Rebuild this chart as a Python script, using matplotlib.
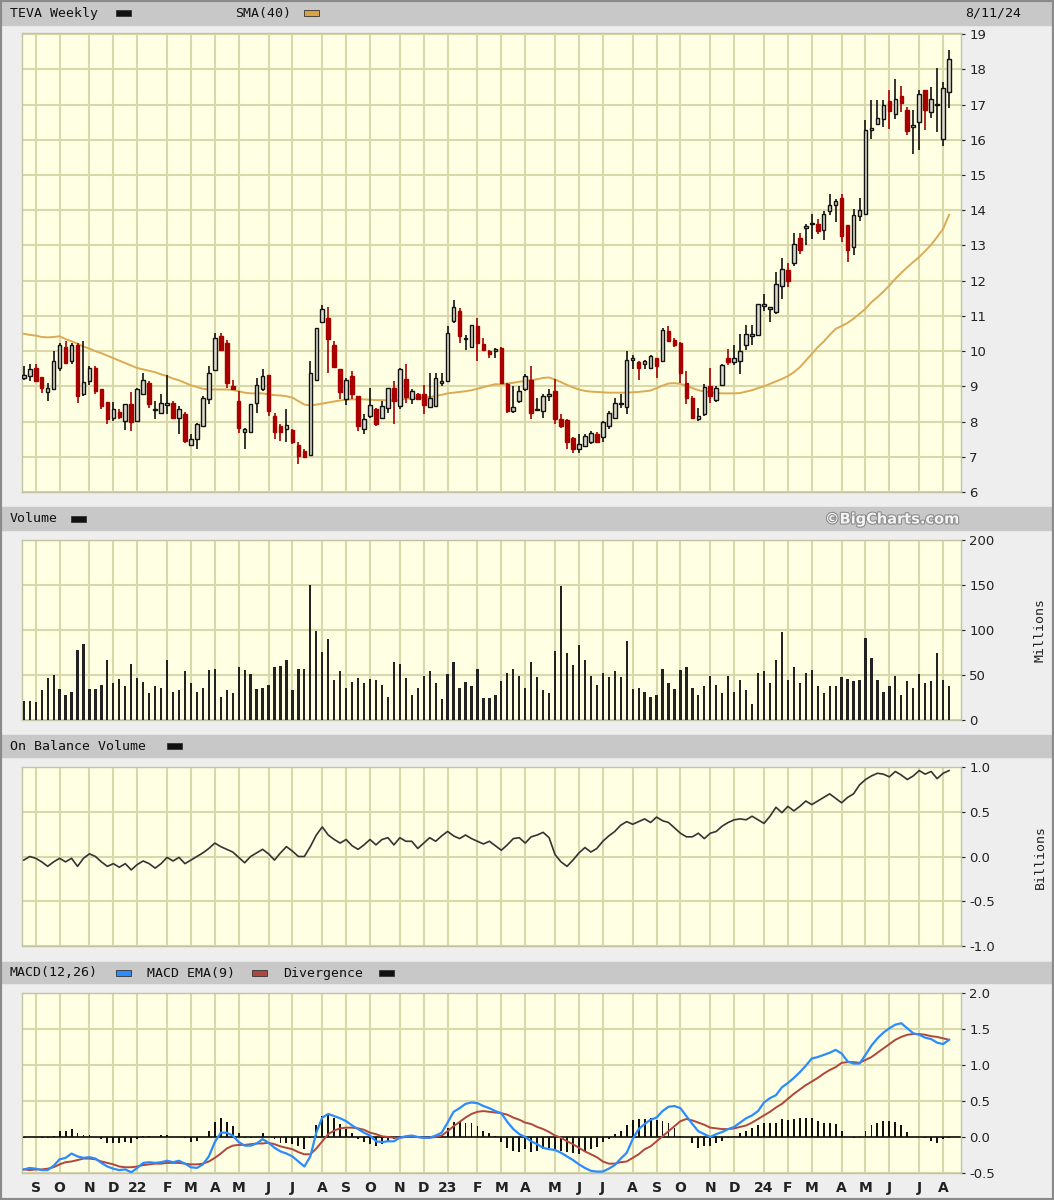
# TEVA weekly chart - price, volume, OBV and MACD panels

import numpy as np
import pandas as pd
import matplotlib
matplotlib.use('Agg')
import matplotlib.pyplot as plt
from matplotlib.patches import Rectangle
import matplotlib.patheffects as pe

# weekly bars, week ending Sunday
dates = pd.date_range('2021-08-22', periods=156, freq='W-SUN')

opens = [9.24, 9.29, 9.52, 9.26, 8.84, 8.91, 9.52, 10.13, 9.71, 10.18,
         8.77, 9.15, 9.52, 8.93, 8.56, 8.11, 8.27, 8.02, 8.49, 8.02,
         8.77, 9.10, 8.33, 8.25, 8.46, 8.54, 8.11, 8.21, 7.34, 7.50,
         7.88, 8.63, 9.46, 10.42, 10.23, 9.02, 8.58, 7.69, 7.69, 8.54,
         8.91, 9.33, 8.16, 7.88, 7.80, 7.75, 7.34, 7.17, 7.05, 9.19,
         10.84, 10.95, 10.16, 9.48, 8.63, 9.29, 8.72, 7.78, 8.16, 8.37,
         8.11, 8.39, 8.96, 8.44, 9.21, 8.63, 8.77, 8.77, 8.41, 8.44,
         9.10, 9.15, 10.86, 11.14, 10.34, 10.13, 10.70, 10.21, 10.01, 9.99,
         10.09, 9.08, 8.30, 8.58, 8.93, 9.19, 8.32, 8.30, 8.72, 8.86,
         8.06, 8.04, 7.52, 7.22, 7.31, 7.41, 7.64, 7.55, 7.88, 8.11,
         8.49, 8.41, 9.76, 9.68, 9.62, 9.52, 9.79, 9.71, 10.56, 10.32,
         10.23, 9.10, 8.68, 8.07, 8.21, 9.00, 8.60, 9.03, 9.80, 9.68,
         9.73, 10.16, 10.44, 10.46, 11.29, 11.20, 11.11, 11.86, 12.29, 12.50,
         13.22, 13.50, 13.60, 13.60, 13.45, 13.99, 14.16, 14.35, 13.57, 12.95,
         13.83, 13.90, 16.28, 16.46, 16.58, 17.09, 16.74, 17.24, 16.84, 16.37,
         16.50, 17.42, 16.79, 16.98, 16.03, 17.36]

highs = [9.57, 9.62, 9.62, 9.26, 9.10, 9.99, 10.23, 10.28, 10.23, 10.23,
         10.28, 9.59, 9.59, 8.93, 8.56, 8.55, 8.35, 8.49, 8.85, 8.96,
         9.38, 9.15, 8.58, 8.77, 9.33, 8.58, 8.44, 8.27, 7.64, 7.97,
         8.72, 9.57, 10.51, 10.51, 10.32, 9.19, 8.86, 7.83, 8.49, 9.24,
         9.50, 9.33, 8.25, 7.92, 8.35, 7.78, 7.41, 7.22, 9.71, 10.65,
         11.31, 11.26, 10.28, 9.48, 9.24, 9.43, 8.72, 8.21, 8.96, 8.39,
         8.58, 8.96, 9.15, 9.52, 9.62, 8.93, 8.82, 9.05, 9.38, 9.38,
         9.38, 10.70, 11.45, 11.22, 10.46, 10.75, 10.93, 10.37, 10.02, 10.09,
         10.13, 9.10, 9.01, 9.01, 9.35, 9.59, 8.68, 8.77, 8.91, 9.21,
         8.21, 8.06, 7.55, 7.64, 7.64, 7.74, 7.69, 8.02, 8.30, 8.68,
         8.77, 9.99, 9.90, 9.71, 9.76, 9.90, 9.79, 10.65, 10.72, 10.37,
         10.25, 9.43, 8.72, 8.39, 9.08, 9.52, 9.00, 9.62, 10.06, 10.18,
         10.49, 10.73, 10.73, 11.34, 11.63, 11.24, 12.24, 12.64, 12.50, 13.35,
         13.35, 13.62, 13.90, 13.76, 13.97, 14.47, 14.33, 14.47, 13.57, 14.02,
         14.34, 16.57, 17.12, 17.12, 17.12, 17.42, 17.72, 17.52, 16.93, 16.84,
         17.42, 17.42, 17.50, 18.04, 17.64, 18.55]

lows = [9.19, 9.15, 9.15, 8.82, 8.58, 8.91, 9.43, 9.62, 9.62, 8.54,
        8.72, 9.05, 8.77, 8.35, 7.92, 8.02, 8.06, 7.76, 7.72, 8.02,
        8.77, 8.39, 8.06, 8.21, 8.21, 8.11, 7.64, 7.39, 7.31, 7.22,
        7.88, 8.49, 9.46, 9.99, 8.96, 8.91, 7.67, 7.22, 7.69, 8.25,
        8.86, 8.16, 7.50, 7.45, 7.41, 7.36, 6.80, 6.98, 7.05, 9.19,
        10.79, 9.38, 9.52, 8.63, 8.46, 8.63, 7.74, 7.64, 8.11, 7.88,
        8.06, 8.25, 7.92, 8.35, 8.52, 8.49, 8.63, 8.21, 8.39, 8.44,
        9.01, 9.15, 10.79, 10.23, 10.04, 10.13, 9.71, 9.99, 9.79, 9.79,
        9.10, 8.25, 8.25, 8.54, 8.86, 8.06, 8.30, 8.11, 8.58, 7.92,
        7.83, 7.22, 7.12, 7.12, 7.27, 7.36, 7.41, 7.41, 7.78, 8.06,
        8.39, 8.21, 9.48, 9.19, 9.48, 9.49, 9.24, 9.71, 10.28, 10.13,
        9.10, 8.49, 8.06, 8.02, 8.16, 8.54, 8.55, 9.01, 9.60, 9.60,
        9.35, 10.02, 10.16, 10.46, 11.15, 10.82, 11.06, 11.47, 11.82, 12.41,
        12.77, 13.00, 13.19, 13.33, 13.14, 13.85, 13.66, 13.09, 12.53, 12.72,
        13.69, 13.90, 16.03, 16.46, 16.36, 16.31, 16.58, 16.79, 16.14, 15.60,
        15.70, 16.27, 16.62, 16.22, 15.82, 16.90]

closes = [9.33, 9.48, 9.15, 8.96, 8.96, 9.71, 10.18, 9.66, 10.18, 8.72,
          9.12, 9.52, 8.86, 8.44, 8.06, 8.35, 8.13, 8.49, 7.99, 8.91,
          9.19, 8.49, 8.36, 8.54, 8.52, 8.11, 8.35, 7.45, 7.50, 7.92,
          8.68, 9.38, 10.37, 10.04, 9.10, 8.91, 7.83, 7.78, 8.49, 9.05,
          9.29, 8.30, 7.71, 7.71, 7.90, 7.41, 7.01, 6.98, 9.38, 10.65,
          11.19, 10.34, 9.55, 8.84, 9.19, 8.77, 7.88, 8.07, 8.46, 7.92,
          8.44, 8.96, 8.58, 9.48, 8.70, 8.88, 8.63, 8.46, 8.68, 9.24,
          9.15, 10.51, 11.24, 10.42, 10.38, 10.75, 10.23, 10.02, 9.93, 10.05,
          9.10, 8.30, 8.41, 8.86, 9.29, 8.25, 8.35, 8.72, 8.77, 8.06,
          7.88, 7.41, 7.22, 7.36, 7.58, 7.67, 7.43, 7.99, 8.25, 8.54,
          8.54, 9.74, 9.80, 9.52, 9.71, 9.85, 9.59, 10.59, 10.28, 10.18,
          9.38, 8.68, 8.11, 8.16, 8.99, 8.72, 8.95, 9.60, 9.68, 9.80,
          9.99, 10.49, 10.48, 11.34, 11.33, 11.24, 11.91, 12.32, 12.00, 13.05,
          12.88, 13.54, 13.64, 13.41, 13.90, 14.14, 14.25, 13.28, 12.86, 13.85,
          14.01, 16.27, 16.32, 16.62, 16.98, 16.82, 17.17, 17.05, 16.24, 16.41,
          17.31, 16.84, 17.15, 17.02, 17.47, 18.30]

sma40 = [10.49, 10.46, 10.44, 10.40, 10.39, 10.40, 10.42, 10.34, 10.28, 10.21,
         10.13, 10.07, 10.00, 9.94, 9.87, 9.80, 9.73, 9.66, 9.59, 9.52,
         9.48, 9.44, 9.40, 9.34, 9.29, 9.22, 9.17, 9.10, 9.03, 8.98,
         8.93, 8.91, 8.91, 8.91, 8.91, 8.90, 8.86, 8.82, 8.80, 8.80,
         8.80, 8.77, 8.75, 8.74, 8.72, 8.68, 8.58, 8.48, 8.46, 8.48,
         8.51, 8.54, 8.57, 8.60, 8.62, 8.63, 8.63, 8.63, 8.62, 8.61,
         8.61, 8.60, 8.60, 8.61, 8.65, 8.66, 8.67, 8.68, 8.70, 8.72,
         8.76, 8.80, 8.82, 8.84, 8.86, 8.89, 8.93, 8.98, 9.02, 9.06,
         9.05, 9.08, 9.10, 9.13, 9.15, 9.18, 9.20, 9.24, 9.25, 9.19,
         9.12, 9.04, 8.97, 8.91, 8.87, 8.85, 8.84, 8.83, 8.82, 8.82,
         8.82, 8.82, 8.83, 8.84, 8.86, 8.88, 8.95, 9.02, 9.08, 9.09,
         9.07, 9.02, 8.95, 8.89, 8.85, 8.83, 8.81, 8.80, 8.80, 8.80,
         8.81, 8.85, 8.89, 8.95, 9.00, 9.07, 9.14, 9.21, 9.29, 9.40,
         9.54, 9.73, 9.92, 10.11, 10.27, 10.46, 10.63, 10.71, 10.80, 10.92,
         11.06, 11.20, 11.39, 11.53, 11.69, 11.86, 12.05, 12.22, 12.38, 12.53,
         12.67, 12.84, 13.02, 13.24, 13.47, 13.87]

# volume in millions
volume = [21, 21, 20, 33, 47, 50, 34, 28, 31, 78,
          84, 34, 34, 39, 67, 41, 46, 38, 62, 47,
          42, 30, 38, 36, 67, 31, 33, 54, 41, 31,
          36, 56, 57, 26, 33, 30, 59, 56, 51, 34,
          36, 39, 59, 60, 67, 33, 57, 57, 150, 99,
          76, 90, 44, 54, 36, 42, 47, 41, 46, 44,
          39, 26, 64, 62, 47, 28, 36, 49, 54, 41,
          23, 51, 64, 36, 42, 38, 57, 24, 24, 28,
          43, 52, 57, 49, 36, 64, 48, 33, 30, 77,
          149, 75, 61, 83, 67, 49, 39, 52, 48, 54,
          48, 88, 34, 36, 31, 26, 28, 57, 41, 34,
          56, 59, 36, 28, 38, 49, 39, 30, 49, 31,
          44, 33, 18, 52, 54, 41, 67, 98, 44, 59,
          41, 52, 56, 38, 30, 38, 38, 48, 46, 43,
          44, 91, 69, 44, 31, 38, 49, 28, 43, 36,
          51, 41, 43, 75, 44, 38]

# on balance volume in billions
obv = [-0.04, 0.00, -0.02, -0.06, -0.11, -0.06, -0.02, -0.06, -0.02, -0.11,
       -0.02, 0.03, 0.00, -0.06, -0.11, -0.08, -0.12, -0.08, -0.15, -0.09,
       -0.05, -0.08, -0.13, -0.08, -0.01, -0.05, -0.01, -0.08, -0.04, 0.00,
       0.04, 0.09, 0.15, 0.11, 0.08, 0.05, -0.01, -0.07, 0.00, 0.04,
       0.08, 0.03, -0.04, 0.04, 0.11, 0.06, 0.00, 0.00, 0.11, 0.24,
       0.33, 0.24, 0.19, 0.15, 0.19, 0.12, 0.08, 0.13, 0.19, 0.13,
       0.19, 0.21, 0.13, 0.21, 0.17, 0.17, 0.09, 0.15, 0.21, 0.17,
       0.23, 0.28, 0.23, 0.20, 0.24, 0.20, 0.17, 0.14, 0.17, 0.12,
       0.07, 0.13, 0.20, 0.21, 0.15, 0.22, 0.24, 0.27, 0.21, 0.02,
       -0.06, -0.11, -0.04, 0.04, 0.10, 0.05, 0.09, 0.17, 0.23, 0.28,
       0.35, 0.39, 0.36, 0.39, 0.42, 0.38, 0.44, 0.40, 0.38, 0.32,
       0.26, 0.22, 0.22, 0.26, 0.20, 0.26, 0.28, 0.34, 0.38, 0.41,
       0.42, 0.41, 0.45, 0.41, 0.37, 0.45, 0.55, 0.49, 0.56, 0.51,
       0.56, 0.62, 0.58, 0.62, 0.66, 0.70, 0.65, 0.60, 0.66, 0.70,
       0.80, 0.86, 0.90, 0.93, 0.92, 0.89, 0.95, 0.91, 0.86, 0.90,
       0.96, 0.92, 0.95, 0.87, 0.93, 0.96]

macd = [-0.45, -0.43, -0.44, -0.46, -0.46, -0.40, -0.31, -0.29, -0.23, -0.27,
        -0.29, -0.28, -0.30, -0.36, -0.41, -0.44, -0.46, -0.45, -0.49, -0.43,
        -0.36, -0.35, -0.36, -0.35, -0.33, -0.35, -0.33, -0.37, -0.42, -0.43,
        -0.38, -0.27, -0.07, 0.06, 0.06, 0.02, -0.07, -0.12, -0.12, -0.09,
        -0.03, -0.08, -0.15, -0.20, -0.23, -0.27, -0.34, -0.41, -0.27, 0.06,
        0.27, 0.32, 0.29, 0.26, 0.22, 0.16, 0.11, 0.06, 0.02, -0.06,
        -0.07, -0.06, -0.06, -0.01, 0.01, 0.02, 0.00, -0.01, -0.01, 0.02,
        0.06, 0.20, 0.35, 0.40, 0.46, 0.48, 0.47, 0.43, 0.40, 0.36,
        0.33, 0.21, 0.11, 0.04, 0.00, -0.06, -0.10, -0.15, -0.17, -0.18,
        -0.22, -0.27, -0.32, -0.38, -0.43, -0.47, -0.48, -0.48, -0.44, -0.39,
        -0.30, -0.22, -0.03, 0.11, 0.18, 0.24, 0.27, 0.36, 0.42, 0.43,
        0.40, 0.29, 0.18, 0.08, 0.04, 0.00, 0.04, 0.07, 0.11, 0.14,
        0.20, 0.26, 0.30, 0.36, 0.48, 0.54, 0.58, 0.69, 0.75, 0.82,
        0.90, 0.99, 1.09, 1.11, 1.14, 1.17, 1.21, 1.16, 1.05, 1.02,
        1.02, 1.14, 1.27, 1.37, 1.45, 1.51, 1.56, 1.58, 1.51, 1.44,
        1.42, 1.38, 1.36, 1.31, 1.29, 1.35]

macd_ema = [-0.45, -0.46, -0.45, -0.45, -0.44, -0.42, -0.38, -0.35, -0.34, -0.32,
            -0.30, -0.30, -0.31, -0.34, -0.36, -0.38, -0.41, -0.42, -0.42, -0.41,
            -0.39, -0.38, -0.37, -0.37, -0.36, -0.36, -0.36, -0.37, -0.38, -0.38,
            -0.37, -0.34, -0.29, -0.23, -0.16, -0.12, -0.11, -0.11, -0.10, -0.09,
            -0.09, -0.08, -0.10, -0.13, -0.15, -0.17, -0.21, -0.24, -0.24, -0.16,
            -0.06, 0.04, 0.09, 0.12, 0.13, 0.13, 0.12, 0.10, 0.06, 0.04,
            0.01, 0.00, -0.01, -0.01, 0.00, 0.00, 0.00, -0.01, -0.01, 0.00,
            0.02, 0.08, 0.15, 0.21, 0.27, 0.32, 0.35, 0.36, 0.35, 0.34,
            0.33, 0.31, 0.27, 0.24, 0.20, 0.18, 0.14, 0.11, 0.07, 0.02,
            -0.01, -0.06, -0.10, -0.15, -0.20, -0.24, -0.28, -0.34, -0.37, -0.37,
            -0.35, -0.34, -0.29, -0.24, -0.17, -0.13, -0.06, 0.01, 0.08, 0.15,
            0.22, 0.25, 0.23, 0.20, 0.17, 0.13, 0.12, 0.11, 0.11, 0.12,
            0.14, 0.16, 0.20, 0.25, 0.30, 0.35, 0.41, 0.46, 0.53, 0.60,
            0.66, 0.72, 0.77, 0.82, 0.88, 0.93, 0.97, 1.03, 1.04, 1.04,
            1.03, 1.07, 1.11, 1.17, 1.23, 1.29, 1.35, 1.39, 1.42, 1.43,
            1.43, 1.42, 1.40, 1.39, 1.37, 1.35]

divergence = [-0.02, 0.00, 0.00, -0.01, -0.02, 0.02, 0.08, 0.08, 0.11, 0.05,
              0.03, 0.03, 0.00, -0.03, -0.09, -0.09, -0.09, -0.07, -0.09, -0.03,
              0.02, 0.02, 0.00, 0.03, 0.03, 0.00, 0.00, -0.02, -0.07, -0.06,
              0.00, 0.08, 0.21, 0.27, 0.21, 0.15, 0.05, -0.02, -0.02, 0.00,
              0.05, 0.00, -0.03, -0.09, -0.09, -0.10, -0.13, -0.17, -0.02, 0.16,
              0.29, 0.32, 0.27, 0.18, 0.11, 0.05, -0.03, -0.07, -0.10, -0.13,
              -0.10, -0.07, -0.03, -0.01, 0.00, 0.00, 0.00, 0.00, 0.00, 0.02,
              0.03, 0.13, 0.21, 0.21, 0.19, 0.19, 0.15, 0.08, 0.05, 0.02,
              -0.07, -0.15, -0.20, -0.21, -0.17, -0.21, -0.20, -0.16, -0.15, -0.17,
              -0.20, -0.21, -0.22, -0.24, -0.20, -0.16, -0.14, -0.07, -0.03, 0.04,
              0.08, 0.17, 0.24, 0.25, 0.25, 0.26, 0.24, 0.22, 0.20, 0.13,
              0.02, 0.00, -0.09, -0.15, -0.13, -0.12, -0.09, -0.06, -0.02, 0.02,
              0.05, 0.08, 0.12, 0.17, 0.19, 0.20, 0.20, 0.25, 0.23, 0.25,
              0.26, 0.27, 0.27, 0.22, 0.20, 0.19, 0.18, 0.08, 0.00, -0.02,
              -0.02, 0.08, 0.17, 0.20, 0.22, 0.22, 0.21, 0.17, 0.07, 0.00,
              0.00, -0.02, -0.06, -0.09, -0.03, -0.02]

W, H = 1054, 1200
bg = '#ffffe3'
gridc = '#d8d8aa'
mono = 'DejaVu Sans Mono'

x = np.arange(len(dates))
o = np.array(opens)
c = np.array(closes)

# month grid positions: first weekly bar in each month
months = dates.month
starts = [i for i in range(1, len(dates)) if months[i] != months[i - 1]]
letters = 'JFMAMJJASOND'
month_labels = [str(dates[i].year % 100) if dates[i].month == 1 else letters[dates[i].month - 1]
                for i in starts]

fig = plt.figure(figsize=(W / 100, H / 100), dpi=100, facecolor='#eeeeee')


def panel(top, bottom):
    ax = fig.add_axes([22 / W, 1 - bottom / H, (961 - 22) / W, (bottom - top) / H])
    ax.set_facecolor(bg)
    ax.set_xlim(-0.3, 157.0)
    ax.set_xticks(starts)
    ax.grid(True, color=gridc, lw=1.5, zorder=0)
    ax.set_axisbelow(True)
    ax.yaxis.tick_right()
    ax.tick_params(axis='y', length=3, colors='#222222', labelsize=9.5, pad=3)
    ax.tick_params(axis='x', length=0, labelbottom=False)
    for s in ax.spines.values():
        s.set_color('#c2c2a4')
        s.set_linewidth(1)
    return ax


def header(y0, y1):
    fig.patches.append(Rectangle((2 / W, 1 - y1 / H), (W - 4) / W, (y1 - y0) / H,
                                 transform=fig.transFigure, color='#c8c8c8', zorder=0))


def icon(xp, yp, color):
    fig.patches.append(Rectangle((xp / W, 1 - (yp + 3) / H), 15 / W, 6 / H,
                                 transform=fig.transFigure, facecolor=color,
                                 edgecolor='#333333', lw=0.6, zorder=2))


def label(xp, yp, s, **kw):
    fig.text(xp / W, 1 - yp / H, s, va='center', family=mono, fontsize=9.5, color='#111111', **kw)


# headers
header(2, 25)
label(10, 13, 'TEVA Weekly')
icon(116, 13, '#111111')
label(235, 13, 'SMA(40)')
icon(304, 13, '#d9a441')
label(1021, 13, '8/11/24', ha='right')

header(507, 530)
label(10, 519, 'Volume')
icon(71, 519, '#111111')
fig.text(960 / W, 1 - 519 / H, '\u00a9BigCharts.com', ha='right', va='center', fontsize=10.5,
         fontweight='bold', color='#f4f4f4',
         path_effects=[pe.withStroke(linewidth=1.6, foreground='#8c8c8c')])

header(735, 757)
label(10, 746, 'On Balance Volume')
icon(167, 746, '#111111')

header(962, 983)
label(10, 973, 'MACD(12,26)')
icon(116, 973, '#2b8cff')
label(147, 973, 'MACD EMA(9)')
icon(252, 973, '#b0463c')
label(283, 973, 'Divergence')
icon(379, 973, '#111111')

# price panel
ax1 = panel(33, 492)
ax1.set_ylim(6, 19.03)
ax1.set_yticks(range(6, 20))
ax1.plot(x, sma40, color='#dcaa55', lw=1.4, zorder=2)
up = c >= o
wick_col = np.where(up, '#111111', '#a80000')
ax1.vlines(x, lows, highs, colors=wick_col, lw=1.2, zorder=3)
body_h = np.maximum(np.abs(c - o), 0.03)
body_b = np.minimum(o, c)
ax1.bar(x[up], body_h[up], bottom=body_b[up], width=0.6, color='#d8d8cc',
        edgecolor='#111111', lw=1, zorder=4)
ax1.bar(x[~up], body_h[~up], bottom=body_b[~up], width=0.6, color='#a80000',
        edgecolor='#a80000', lw=1, zorder=4)

# volume panel
ax2 = panel(540, 720)
ax2.set_ylim(0, 200)
ax2.set_yticks([0, 50, 100, 150, 200])
ax2.bar(x, volume, width=0.38, color='#222222', zorder=3)
fig.text(1040 / W, 1 - 630 / H, 'Millions', rotation=90, ha='center', va='center',
         family=mono, fontsize=9.5, color='#222222')

# on balance volume panel
ax3 = panel(767, 946)
ax3.set_ylim(-1.0, 1.0)
ax3.set_yticks([-1.0, -0.5, 0.0, 0.5, 1.0])
ax3.set_yticklabels(['-1.0', '-0.5', '0.0', '0.5', '1.0'])
ax3.plot(x, obv, color='#333333', lw=1.2, zorder=3)
fig.text(1040 / W, 1 - 857 / H, 'Billions', rotation=90, ha='center', va='center',
         family=mono, fontsize=9.5, color='#222222')

# MACD panel
ax4 = panel(993, 1173)
ax4.set_ylim(-0.5, 2.0)
ax4.set_yticks([-0.5, 0.0, 0.5, 1.0, 1.5, 2.0])
ax4.set_yticklabels(['-0.5', '0.0', '0.5', '1.0', '1.5', '2.0'])
ax4.axhline(0, color='#111111', lw=1.2, zorder=2)
ax4.bar(x, divergence, width=0.32, color='#111111', zorder=3)
ax4.plot(x, macd_ema, color='#b0463c', lw=1.4, zorder=4)
ax4.plot(x, macd, color='#2b8cff', lw=1.6, zorder=5)
ax4.tick_params(axis='x', labelbottom=True, labelsize=10, pad=6, colors='#222222')
ax4.set_xticklabels(month_labels, fontweight='bold')

# outer frame
fig.patches.append(Rectangle((0, 0), 1, 1, transform=fig.transFigure, fill=False,
                             edgecolor='#8a8a8a', lw=3, zorder=5))

plt.savefig('out.png', dpi=100, facecolor=fig.get_facecolor())
